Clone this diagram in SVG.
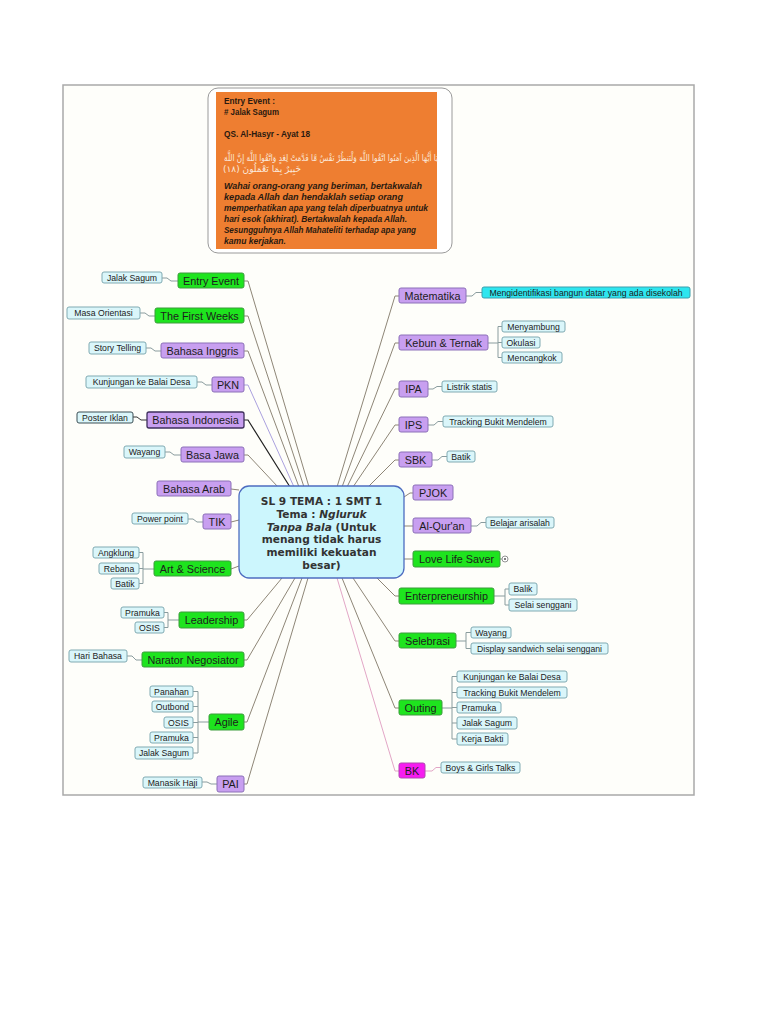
<svg xmlns="http://www.w3.org/2000/svg" width="768" height="1024" viewBox="0 0 768 1024">
<style>
.frame{fill:#fefefa;stroke:#a9a9a9;stroke-width:1.5}
.g{fill:#1ee41e;stroke:#3c9c3c;stroke-width:1}
.p{fill:#c89ff0;stroke:#8c70b8;stroke-width:1}
.m{fill:#f61cf0;stroke:#b046b0;stroke-width:1}
.c{fill:#daf6fa;stroke:#80aab2;stroke-width:1}
.cc{fill:#2ee6ef;stroke:#3aa0ae;stroke-width:1}
.t{font-family:"Liberation Sans",Arial,sans-serif;font-size:10.8px;fill:#1c1c1c;text-anchor:middle;dominant-baseline:central}
.s{font-family:"Liberation Sans",Arial,sans-serif;font-size:8.7px;fill:#1c1c1c;text-anchor:middle;dominant-baseline:central}
.ln{fill:none;stroke:#8e8677;stroke-width:1}
.lc{fill:none;stroke:#8a9c9e;stroke-width:1}
.ot{font-family:"Liberation Sans",Arial,sans-serif;font-weight:bold;font-size:8.3px;fill:#2a1a10}
.oi{font-family:"Liberation Sans",Arial,sans-serif;font-weight:bold;font-style:italic;font-size:8.3px;fill:#2a1a10}
.ct{font-family:"DejaVu Sans",Verdana,sans-serif;font-weight:bold;font-size:10.6px;fill:#333;text-anchor:middle}
</style>
<rect x="0" y="0" width="768" height="1024" fill="#ffffff"/>
<rect class="frame" x="63" y="85" width="631" height="710"/>

<g id="entry-event-note">
<rect x="208" y="88" width="244" height="165" rx="10" fill="#ffffff" stroke="#9a9a9a" stroke-width="1"/>
<rect x="216" y="92" width="221" height="157" fill="#ee7e31"/>
<text class="ot" x="224" y="104" textLength="51" lengthAdjust="spacingAndGlyphs">Entry Event :</text>
<text class="ot" x="224" y="115" textLength="55" lengthAdjust="spacingAndGlyphs"># Jalak Sagum</text>
<text class="ot" x="224" y="137" font-size="8.8px" textLength="86" lengthAdjust="spacingAndGlyphs">QS. Al-Hasyr - Ayat 18</text>
<text x="438" y="161" text-anchor="end" font-family="DejaVu Sans, sans-serif" font-size="9px" fill="#fbe9dc" textLength="214" lengthAdjust="spacingAndGlyphs">يَا أَيُّهَا الَّذِينَ آمَنُوا اتَّقُوا اللَّهَ وَلْتَنظُرْ نَفْسٌ مَّا قَدَّمَتْ لِغَدٍ وَاتَّقُوا اللَّهَ إِنَّ اللَّهَ</text>
<text x="223" y="172" font-family="DejaVu Sans, sans-serif" font-size="9px" fill="#fbe9dc">خَبِيرٌ بِمَا تَعْمَلُونَ (١٨)</text>
<text class="oi" x="224" y="189" textLength="198" lengthAdjust="spacingAndGlyphs">Wahai orang-orang yang beriman, bertakwalah</text>
<text class="oi" x="224" y="200" textLength="179" lengthAdjust="spacingAndGlyphs">kepada Allah dan hendaklah setiap orang</text>
<text class="oi" x="224" y="211" textLength="204" lengthAdjust="spacingAndGlyphs">memperhatikan apa yang telah diperbuatnya untuk</text>
<text class="oi" x="224" y="222" textLength="183" lengthAdjust="spacingAndGlyphs">hari esok (akhirat). Bertakwalah kepada Allah.</text>
<text class="oi" x="224" y="233" textLength="192" lengthAdjust="spacingAndGlyphs">Sesungguhnya Allah Mahateliti terhadap apa yang</text>
<text class="oi" x="224" y="244" textLength="62" lengthAdjust="spacingAndGlyphs">kamu kerjakan.</text>
</g>

<g id="connectors">
<path class="ln" d="M244,281 h4 L309,487"/>
<path class="ln" d="M244,316 h4 L304,487"/>
<path class="ln" d="M244,351 h4 L299,487"/>
<path class="ln" d="M244,385 h4 L294,487" style="stroke:#aaa0de"/>
<path class="ln" d="M244,420 h4 L290,487" style="stroke:#222;stroke-width:1.2"/>
<path class="ln" d="M244,455 h4 L278,487"/>
<path class="ln" d="M231,489 L239,490"/>
<path class="ln" d="M231,522 L239,520"/>
<path class="ln" d="M231,569 L239,566"/>
<path class="ln" d="M244,620 h3 L282,578"/>
<path class="ln" d="M244,660 h3 L295,578"/>
<path class="ln" d="M244,722 h3 L302,578"/>
<path class="ln" d="M244,784 h3 L308,578"/>
<path class="ln" d="M399,296 h-4 L337,487"/>
<path class="ln" d="M399,343 h-4 L342,487"/>
<path class="ln" d="M399,389 h-4 L347,487"/>
<path class="ln" d="M399,425 h-4 L353,487"/>
<path class="ln" d="M399,460 h-4 L368,487"/>
<path class="ln" d="M413,493 h-3 L404,497"/>
<path class="ln" d="M413,526 L404,526"/>
<path class="ln" d="M413,559 L404,559"/>
<path class="ln" d="M399,596 h-4 L377,578"/>
<path class="ln" d="M399,641 h-4 L353,578"/>
<path class="ln" d="M399,708 h-4 L342,578"/>
<path class="ln" d="M399,771 h-4 L337,578" style="stroke:#e2a6c6"/>
<path class="lc" d="M162,278 H167 L171,281 H178"/>
<path class="lc" d="M140,313 H145 L149,316 H155"/>
<path class="lc" d="M146,348 H151 L155,351 H161"/>
<path class="lc" d="M197,382 H202 L206,385 H212"/>
<path class="lc" d="M133,417 H137 L141,420 H147" style="stroke:#333"/>
<path class="lc" d="M165,452 H170 L174,455 H181"/>
<path class="lc" d="M188,519 H193 L197,522 H203"/>
<path class="lc" d="M127,656 H132 L136,660 H142"/>
<path class="lc" d="M202,782 H207 L211,784 H217"/>
<path class="lc" d="M154,569 H143 M143,552.5 V583.5 M139,552.5 H143 M139,568.5 H143 M139,583.5 H143"/>
<path class="lc" d="M179,620 H168 M168,612.5 V627.5 M164,612.5 H168 M164,627.5 H168"/>
<path class="lc" d="M209,722 H198 M198,691.5 V753 M193,691.5 H198 M193,706.5 H198 M193,722.5 H198 M193,737.5 H198 M193,753 H198"/>
<path class="lc" d="M466,296 H472 L476,292.5 H482"/>
<path class="lc" d="M428,389 H433 L437,386.5 H442"/>
<path class="lc" d="M428,425 H434 L438,421.5 H443"/>
<path class="lc" d="M432,460 H438 L442,456.5 H447"/>
<path class="lc" d="M471,526 H477 L481,522.5 H486"/>
<path class="lc" d="M425,771 H432 L436,767.5 H441" style="stroke:#e2a6c6"/>
<path class="lc" d="M488,343 H498 M498,326.5 V357.5 M498,326.5 H502 M498,342.5 H502 M498,357.5 H502"/>
<path class="lc" d="M494,596 H505 M505,589 V605 M505,589 H509 M505,605 H509"/>
<path class="lc" d="M456,641 H466 M466,632.5 V648.5 M466,632.5 H471 M466,648.5 H471"/>
<path class="lc" d="M442,708 H452 M452,676.5 V739 M452,676.5 H457 M452,692.5 H457 M452,707.5 H457 M452,723 H457 M452,739 H457"/>
<path class="lc" d="M500,559 H502"/>
</g>

<g id="center">
<rect x="239" y="486" width="165" height="92" rx="10" fill="#ccf6fd" stroke="#4d6cc0" stroke-width="1.3"/>
<text class="ct" x="321.5" y="505">SL 9 TEMA : 1 SMT 1</text>
<text class="ct" x="321.5" y="517.5">Tema : <tspan font-style="italic">Ngluruk</tspan></text>
<text class="ct" x="321.5" y="530.5"><tspan font-style="italic">Tanpa Bala</tspan> (Untuk</text>
<text class="ct" x="321.5" y="543">menang tidak harus</text>
<text class="ct" x="321.5" y="555.5">memiliki kekuatan</text>
<text class="ct" x="321.5" y="568.5">besar)</text>
</g>

<g id="entry-event"><rect class="g" x="178" y="273" width="66" height="15" rx="2"/><text class="t" x="211" y="280.5">Entry Event</text>
<rect class="c" x="102" y="272" width="60" height="11" rx="2"/><text class="s" x="132" y="277.5">Jalak Sagum</text></g>
<g id="the-first-weeks"><rect class="g" x="155" y="308" width="89" height="15" rx="2"/><text class="t" x="199.5" y="315.5">The First Weeks</text>
<rect class="c" x="67" y="307" width="73" height="12" rx="2"/><text class="s" x="103.5" y="313">Masa Orientasi</text></g>
<g id="bahasa-inggris"><rect class="p" x="161" y="343" width="83" height="15" rx="2"/><text class="t" x="202.5" y="350.5">Bahasa Inggris</text>
<rect class="c" x="89" y="342" width="57" height="12" rx="2"/><text class="s" x="117.5" y="348">Story Telling</text></g>
<g id="pkn"><rect class="p" x="212" y="377" width="32" height="15" rx="2"/><text class="t" x="228" y="384.5">PKN</text>
<rect class="c" x="86" y="376" width="111" height="12" rx="2"/><text class="s" x="141.5" y="382">Kunjungan ke Balai Desa</text></g>
<g id="bahasa-indonesia"><rect class="p" x="147" y="412" width="97" height="16" rx="2" style="stroke:#3e2f5c;stroke-width:1.3"/><text class="t" x="195.5" y="420">Bahasa Indonesia</text>
<rect class="c" x="77" y="412" width="56" height="11" rx="2" style="stroke:#3b4f55"/><text class="s" x="105" y="417.5">Poster Iklan</text></g>
<g id="basa-jawa"><rect class="p" x="181" y="447" width="63" height="15" rx="2"/><text class="t" x="212.5" y="454.5">Basa Jawa</text>
<rect class="c" x="124" y="446" width="41" height="12" rx="2"/><text class="s" x="144.5" y="452">Wayang</text></g>
<g id="bahasa-arab"><rect class="p" x="157" y="481" width="74" height="15" rx="2"/><text class="t" x="194" y="488.5">Bahasa Arab</text></g>
<g id="tik"><rect class="p" x="203" y="514" width="28" height="15" rx="2"/><text class="t" x="217" y="521.5">TIK</text>
<rect class="c" x="132" y="513" width="56" height="11" rx="2"/><text class="s" x="160" y="518.5">Power point</text></g>
<g id="art-science"><rect class="g" x="154" y="561" width="77" height="15" rx="2"/><text class="t" x="192.5" y="568.5">Art &amp; Science</text>
<rect class="c" x="93" y="547" width="46" height="11" rx="2"/><text class="s" x="116" y="552.5">Angklung</text>
<rect class="c" x="99" y="563" width="40" height="11" rx="2"/><text class="s" x="119" y="568.5">Rebana</text>
<rect class="c" x="111" y="578" width="28" height="11" rx="2"/><text class="s" x="125" y="583.5">Batik</text></g>
<g id="leadership"><rect class="g" x="179" y="612" width="65" height="16" rx="2"/><text class="t" x="211.5" y="620">Leadership</text>
<rect class="c" x="121" y="607" width="43" height="11" rx="2"/><text class="s" x="142.5" y="612.5">Pramuka</text>
<rect class="c" x="135" y="622" width="29" height="11" rx="2"/><text class="s" x="149.5" y="627.5">OSIS</text></g>
<g id="narator-negosiator"><rect class="g" x="142" y="652" width="102" height="15" rx="2"/><text class="t" x="193" y="659.5">Narator Negosiator</text>
<rect class="c" x="69" y="650" width="58" height="12" rx="2"/><text class="s" x="98" y="656">Hari Bahasa</text></g>
<g id="agile"><rect class="g" x="209" y="714" width="35" height="16" rx="2"/><text class="t" x="226.5" y="722">Agile</text>
<rect class="c" x="150" y="686" width="43" height="11" rx="2"/><text class="s" x="171.5" y="691.5">Panahan</text>
<rect class="c" x="152" y="701" width="41" height="11" rx="2"/><text class="s" x="172.5" y="706.5">Outbond</text>
<rect class="c" x="164" y="717" width="29" height="11" rx="2"/><text class="s" x="178.5" y="722.5">OSIS</text>
<rect class="c" x="150" y="732" width="43" height="11" rx="2"/><text class="s" x="171.5" y="737.5">Pramuka</text>
<rect class="c" x="135" y="747" width="58" height="12" rx="2"/><text class="s" x="164" y="753">Jalak Sagum</text></g>
<g id="pai"><rect class="p" x="217" y="776" width="27" height="16" rx="2"/><text class="t" x="230.5" y="784">PAI</text>
<rect class="c" x="143" y="777" width="59" height="11" rx="2"/><text class="s" x="172.5" y="782.5">Manasik Haji</text></g>

<g id="matematika"><rect class="p" x="399" y="288" width="67" height="15" rx="2"/><text class="t" x="432.5" y="295.5">Matematika</text>
<rect class="cc" x="482" y="287" width="208" height="11" rx="2"/><text class="s" x="586" y="292.5">Mengidentifikasi bangun datar yang ada disekolah</text></g>
<g id="kebun-ternak"><rect class="p" x="399" y="335" width="89" height="15" rx="2"/><text class="t" x="443.5" y="342.5">Kebun &amp; Ternak</text>
<rect class="c" x="502" y="321" width="63" height="11" rx="2"/><text class="s" x="533.5" y="326.5">Menyambung</text>
<rect class="c" x="502" y="337" width="38" height="11" rx="2"/><text class="s" x="521" y="342.5">Okulasi</text>
<rect class="c" x="502" y="352" width="60" height="11" rx="2"/><text class="s" x="532" y="357.5">Mencangkok</text></g>
<g id="ipa"><rect class="p" x="399" y="381" width="29" height="16" rx="2"/><text class="t" x="413.5" y="389">IPA</text>
<rect class="c" x="442" y="381" width="55" height="11" rx="2"/><text class="s" x="469.5" y="386.5">Listrik statis</text></g>
<g id="ips"><rect class="p" x="399" y="417" width="29" height="15" rx="2"/><text class="t" x="413.5" y="424.5">IPS</text>
<rect class="c" x="443" y="416" width="110" height="11" rx="2"/><text class="s" x="498" y="421.5">Tracking Bukit Mendelem</text></g>
<g id="sbk"><rect class="p" x="399" y="452" width="33" height="15" rx="2"/><text class="t" x="415.5" y="459.5">SBK</text>
<rect class="c" x="447" y="451" width="28" height="11" rx="2"/><text class="s" x="461" y="456.5">Batik</text></g>
<g id="pjok"><rect class="p" x="413" y="485" width="40" height="15" rx="2"/><text class="t" x="433" y="492.5">PJOK</text></g>
<g id="al-quran"><rect class="p" x="413" y="518" width="58" height="15" rx="2"/><text class="t" x="442" y="525.5">Al-Qur'an</text>
<rect class="c" x="486" y="517" width="68" height="11" rx="2"/><text class="s" x="520" y="522.5">Belajar arisalah</text></g>
<g id="love-life-saver"><rect class="g" x="413" y="551" width="87" height="16" rx="2"/><text class="t" x="456.5" y="559">Love Life Saver</text>
<circle cx="505" cy="559" r="3" fill="#fff" stroke="#777" stroke-width="0.8"/><circle cx="505" cy="559" r="1" fill="#555"/></g>
<g id="enterpreneurship"><rect class="g" x="399" y="588" width="95" height="16" rx="2"/><text class="t" x="446.5" y="596">Enterpreneurship</text>
<rect class="c" x="509" y="583" width="28" height="12" rx="2"/><text class="s" x="523" y="589">Balik</text>
<rect class="c" x="509" y="599" width="68" height="12" rx="2"/><text class="s" x="543" y="605">Selai senggani</text></g>
<g id="selebrasi"><rect class="g" x="399" y="633" width="57" height="15" rx="2"/><text class="t" x="427.5" y="640.5">Selebrasi</text>
<rect class="c" x="471" y="627" width="40" height="11" rx="2"/><text class="s" x="491" y="632.5">Wayang</text>
<rect class="c" x="471" y="643" width="137" height="11" rx="2"/><text class="s" x="539.5" y="648.5">Display sandwich selai senggani</text></g>
<g id="outing"><rect class="g" x="399" y="700" width="43" height="15" rx="2"/><text class="t" x="420.5" y="707.5">Outing</text>
<rect class="c" x="457" y="671" width="110" height="11" rx="2"/><text class="s" x="512" y="676.5">Kunjungan ke Balai Desa</text>
<rect class="c" x="457" y="687" width="110" height="11" rx="2"/><text class="s" x="512" y="692.5">Tracking Bukit Mendelem</text>
<rect class="c" x="457" y="702" width="44" height="11" rx="2"/><text class="s" x="479" y="707.5">Pramuka</text>
<rect class="c" x="457" y="717" width="60" height="12" rx="2"/><text class="s" x="487" y="723">Jalak Sagum</text>
<rect class="c" x="457" y="733" width="51" height="12" rx="2"/><text class="s" x="482.5" y="739">Kerja Bakti</text></g>
<g id="bk"><rect class="m" x="399" y="763" width="26" height="15" rx="2"/><text class="t" x="412" y="770.5">BK</text>
<rect class="c" x="441" y="762" width="79" height="11" rx="2"/><text class="s" x="480.5" y="767.5">Boys &amp; Girls Talks</text></g>
</svg>
